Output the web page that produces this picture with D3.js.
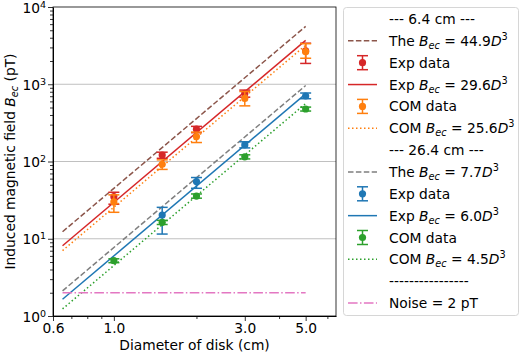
<!DOCTYPE html>
<html>
<head>
<meta charset="utf-8">
<script src="https://cdn.jsdelivr.net/npm/d3@7"></script>
<style>
  body { margin: 0; background: #fff; }
  text { font-family: "DejaVu Sans", sans-serif; fill: #000; }
</style>
</head>
<body>
<svg id="chart" width="520" height="355"></svg>
<script>
// data (pT vs disk diameter in cm)
var diameters = [1.0, 1.5, 2.0, 3.0, 5.0];

// 6.4 cm
var exp64 = [35, 121, 262, 760, 2700];
var exp64Low = [28, 110, 236, 680, 1860];
var exp64High = [40, 132, 285, 840, 3400];
var com64 = [30, 92, 210, 655, 2640];
var com64Low = [22, 79, 176, 525, 2170];
var com64High = [37, 105, 240, 805, 3350];

// 26.4 cm
var exp264Diameters = [1.5, 2.0, 3.0, 5.0];
var exp264 = [20.3, 55, 164, 705];
var exp264Low = [11.5, 45, 150, 650];
var exp264High = [25.5, 62, 180, 770];
var com264 = [5.2, 16.3, 35.7, 115, 478];
var com264Low = [4.9, 15.3, 33.5, 108, 450];
var com264High = [5.5, 17.3, 38, 122, 506];

// fitted coefficients, B = k * D^3
var the64Coef = 44.9, exp64Coef = 29.6, com64Coef = 25.6;
var the264Coef = 7.7, exp264Coef = 6.0, com264Coef = 4.5;
var noiseLevel = 2;
var fitRange = [0.65, 5.0];

var xMajorTicks = [0.6, 1.0, 3.0, 5.0];
var xMinorTicks = [0.7, 0.8, 0.9, 2, 4, 6];
var yMajorTicks = [1, 10, 100, 1000, 10000];

var svg = d3.select("#chart");

var x = d3.scaleLog().domain([0.6, 6.45]).range([53, 336]);
var y = d3.scaleLog().domain([1, 10000]).range([316, 7]);

var yMinorTicks = [];
yMajorTicks.slice(0, 4).forEach(function (m) {
  for (var k = 2; k <= 9; k++) yMinorTicks.push(m * k);
});

// grid
svg.append("g")
  .selectAll("line")
  .data([10, 100, 1000])
  .enter()
  .append("line")
  .attr("x1", 53).attr("x2", 336)
  .attr("y1", function (d) { return y(d); })
  .attr("y2", function (d) { return y(d); })
  .attr("stroke", "#b0b0b0")
  .attr("stroke-width", 0.8);

// axes
var xAxis = svg.append("g")
  .attr("transform", "translate(0,316)")
  .call(d3.axisBottom(x).tickValues(xMajorTicks).tickFormat(d3.format(".1f")).tickSize(5).tickSizeOuter(0));
svg.append("g")
  .attr("transform", "translate(0,316)")
  .call(d3.axisBottom(x).tickValues(xMinorTicks).tickFormat("").tickSize(3).tickSizeOuter(0))
  .select(".domain").remove();

var yAxis = svg.append("g")
  .attr("transform", "translate(53,0)")
  .call(d3.axisLeft(y).tickValues(yMajorTicks).tickFormat("").tickSize(5).tickSizeOuter(0));
svg.append("g")
  .attr("transform", "translate(53,0)")
  .call(d3.axisLeft(y).tickValues(yMinorTicks).tickFormat("").tickSize(3).tickSizeOuter(0))
  .select(".domain").remove();

svg.selectAll(".tick line").attr("stroke", "#000").attr("stroke-width", 0.8);
xAxis.selectAll("text")
  .attr("y", 7)
  .style("font-size", "13.8px")
  .style("font-family", "DejaVu Sans");

// y tick labels as 10^n
yMajorTicks.forEach(function (v) {
  var t = svg.append("text")
    .attr("x", 46)
    .attr("y", y(v) + 5.5)
    .attr("text-anchor", "end")
    .style("font-size", "13.8px");
  t.append("tspan").text("10");
  t.append("tspan").attr("dy", -5).style("font-size", "9.5px").text(Math.round(Math.log10(v)));
});

// frame
svg.append("rect")
  .attr("x", 53).attr("y", 7)
  .attr("width", 283).attr("height", 309)
  .attr("fill", "none")
  .attr("stroke", "#000")
  .attr("stroke-width", 0.8);

// axis labels
svg.append("text")
  .attr("x", 194.5).attr("y", 350)
  .attr("text-anchor", "middle")
  .style("font-size", "13.8px")
  .text("Diameter of disk (cm)");

var yl = svg.append("text")
  .attr("transform", "translate(15,161.5) rotate(-90)")
  .attr("text-anchor", "middle")
  .style("font-size", "13.8px");
yl.append("tspan").text("Induced magnetic field ");
yl.append("tspan").style("font-style", "italic").text("B");
yl.append("tspan").attr("dy", 3).style("font-style", "italic").style("font-size", "9.7px").text("ec");
yl.append("tspan").attr("dy", -3).text(" (pT)");

var dashed = "5.5,2.4", dotted = "1.5,2.5", dashdot = "9.6,2.4,1.5,2.4";

function fitLine(coef, color, dash) {
  var pts = fitRange.map(function (d) { return [x(d), y(coef * Math.pow(d, 3))]; });
  svg.append("path")
    .attr("d", d3.line()(pts))
    .attr("fill", "none")
    .attr("stroke", color)
    .attr("stroke-width", 1.5)
    .attr("stroke-dasharray", dash);
}

function errData(xs, vals, lo, hi, color) {
  var g = svg.append("g");
  var rows = xs.map(function (d, i) { return { d: d, v: vals[i], lo: lo[i], hi: hi[i] }; });
  g.selectAll(".bar").data(rows).enter().append("line")
    .attr("x1", function (r) { return x(r.d); })
    .attr("x2", function (r) { return x(r.d); })
    .attr("y1", function (r) { return y(r.lo); })
    .attr("y2", function (r) { return y(r.hi); })
    .attr("stroke", color).attr("stroke-width", 1.5);
  ["lo", "hi"].forEach(function (k) {
    g.selectAll(".cap" + k).data(rows).enter().append("line")
      .attr("x1", function (r) { return x(r.d) - 5.5; })
      .attr("x2", function (r) { return x(r.d) + 5.5; })
      .attr("y1", function (r) { return y(r[k]); })
      .attr("y2", function (r) { return y(r[k]); })
      .attr("stroke", color).attr("stroke-width", 1.5);
  });
  g.selectAll("circle").data(rows).enter().append("circle")
    .attr("cx", function (r) { return x(r.d); })
    .attr("cy", function (r) { return y(r.v); })
    .attr("r", 3.6)
    .attr("fill", color);
}

fitLine(the64Coef, "#8c564b", dashed);
errData(diameters, exp64, exp64Low, exp64High, "#d62728");
fitLine(exp64Coef, "#d62728", null);
errData(diameters, com64, com64Low, com64High, "#ff7f0e");
fitLine(com64Coef, "#ff7f0e", dotted);
fitLine(the264Coef, "#7f7f7f", dashed);
errData(exp264Diameters, exp264, exp264Low, exp264High, "#1f77b4");
fitLine(exp264Coef, "#1f77b4", null);
errData(diameters, com264, com264Low, com264High, "#2ca02c");
fitLine(com264Coef, "#2ca02c", dotted);

svg.append("line")
  .attr("x1", x(fitRange[0])).attr("x2", x(fitRange[1]))
  .attr("y1", y(noiseLevel)).attr("y2", y(noiseLevel))
  .attr("stroke", "#e377c2").attr("stroke-width", 1.5)
  .attr("stroke-dasharray", dashdot);

// legend
var legendRows = [
  { kind: "header", text: "--- 6.4 cm ---" },
  { kind: "line", color: "#8c564b", dash: dashed, pre: "The", coef: the64Coef },
  { kind: "err", color: "#d62728", text: "Exp data" },
  { kind: "line", color: "#d62728", dash: null, pre: "Exp", coef: exp64Coef },
  { kind: "err", color: "#ff7f0e", text: "COM data" },
  { kind: "line", color: "#ff7f0e", dash: dotted, pre: "COM", coef: com64Coef },
  { kind: "header", text: "--- 26.4 cm ---" },
  { kind: "line", color: "#7f7f7f", dash: dashed, pre: "The", coef: the264Coef },
  { kind: "err", color: "#1f77b4", text: "Exp data" },
  { kind: "line", color: "#1f77b4", dash: null, pre: "Exp", coef: exp264Coef },
  { kind: "err", color: "#2ca02c", text: "COM data" },
  { kind: "line", color: "#2ca02c", dash: dotted, pre: "COM", coef: com264Coef },
  { kind: "header", text: "----------------" },
  { kind: "line", color: "#e377c2", dash: dashdot, text: "Noise = 2 pT" }
];

svg.append("rect")
  .attr("x", 343.5).attr("y", 7.5)
  .attr("width", 175).attr("height", 308)
  .attr("rx", 3)
  .attr("fill", "#fff").attr("fill-opacity", 0.8)
  .attr("stroke", "#cccccc").attr("stroke-width", 0.8);

legendRows.forEach(function (r, i) {
  var cy = 19 + i * 21.85;
  if (r.kind === "line") {
    svg.append("line")
      .attr("x1", 348).attr("x2", 377)
      .attr("y1", cy).attr("y2", cy)
      .attr("stroke", r.color).attr("stroke-width", 1.5)
      .attr("stroke-dasharray", r.dash);
  } else if (r.kind === "err") {
    svg.append("line").attr("x1", 362.5).attr("x2", 362.5).attr("y1", cy - 7).attr("y2", cy + 7)
      .attr("stroke", r.color).attr("stroke-width", 1.5);
    [-7, 7].forEach(function (o) {
      svg.append("line").attr("x1", 357).attr("x2", 368).attr("y1", cy + o).attr("y2", cy + o)
        .attr("stroke", r.color).attr("stroke-width", 1.5);
    });
    svg.append("circle").attr("cx", 362.5).attr("cy", cy).attr("r", 3.6).attr("fill", r.color);
  }
  var t = svg.append("text")
    .attr("x", 389).attr("y", cy + 5)
    .style("font-size", "13.8px");
  if (r.coef !== undefined) {
    t.append("tspan").text(r.pre + " ");
    t.append("tspan").style("font-style", "italic").text("B");
    t.append("tspan").attr("dy", 3).style("font-style", "italic").style("font-size", "9.7px").text("ec");
    t.append("tspan").attr("dy", -3).text(" = " + r.coef.toFixed(1));
    t.append("tspan").style("font-style", "italic").text("D");
    t.append("tspan").attr("dy", -6).style("font-size", "9.7px").text("3");
  } else {
    t.text(r.text);
  }
});
</script>
</body>
</html>
